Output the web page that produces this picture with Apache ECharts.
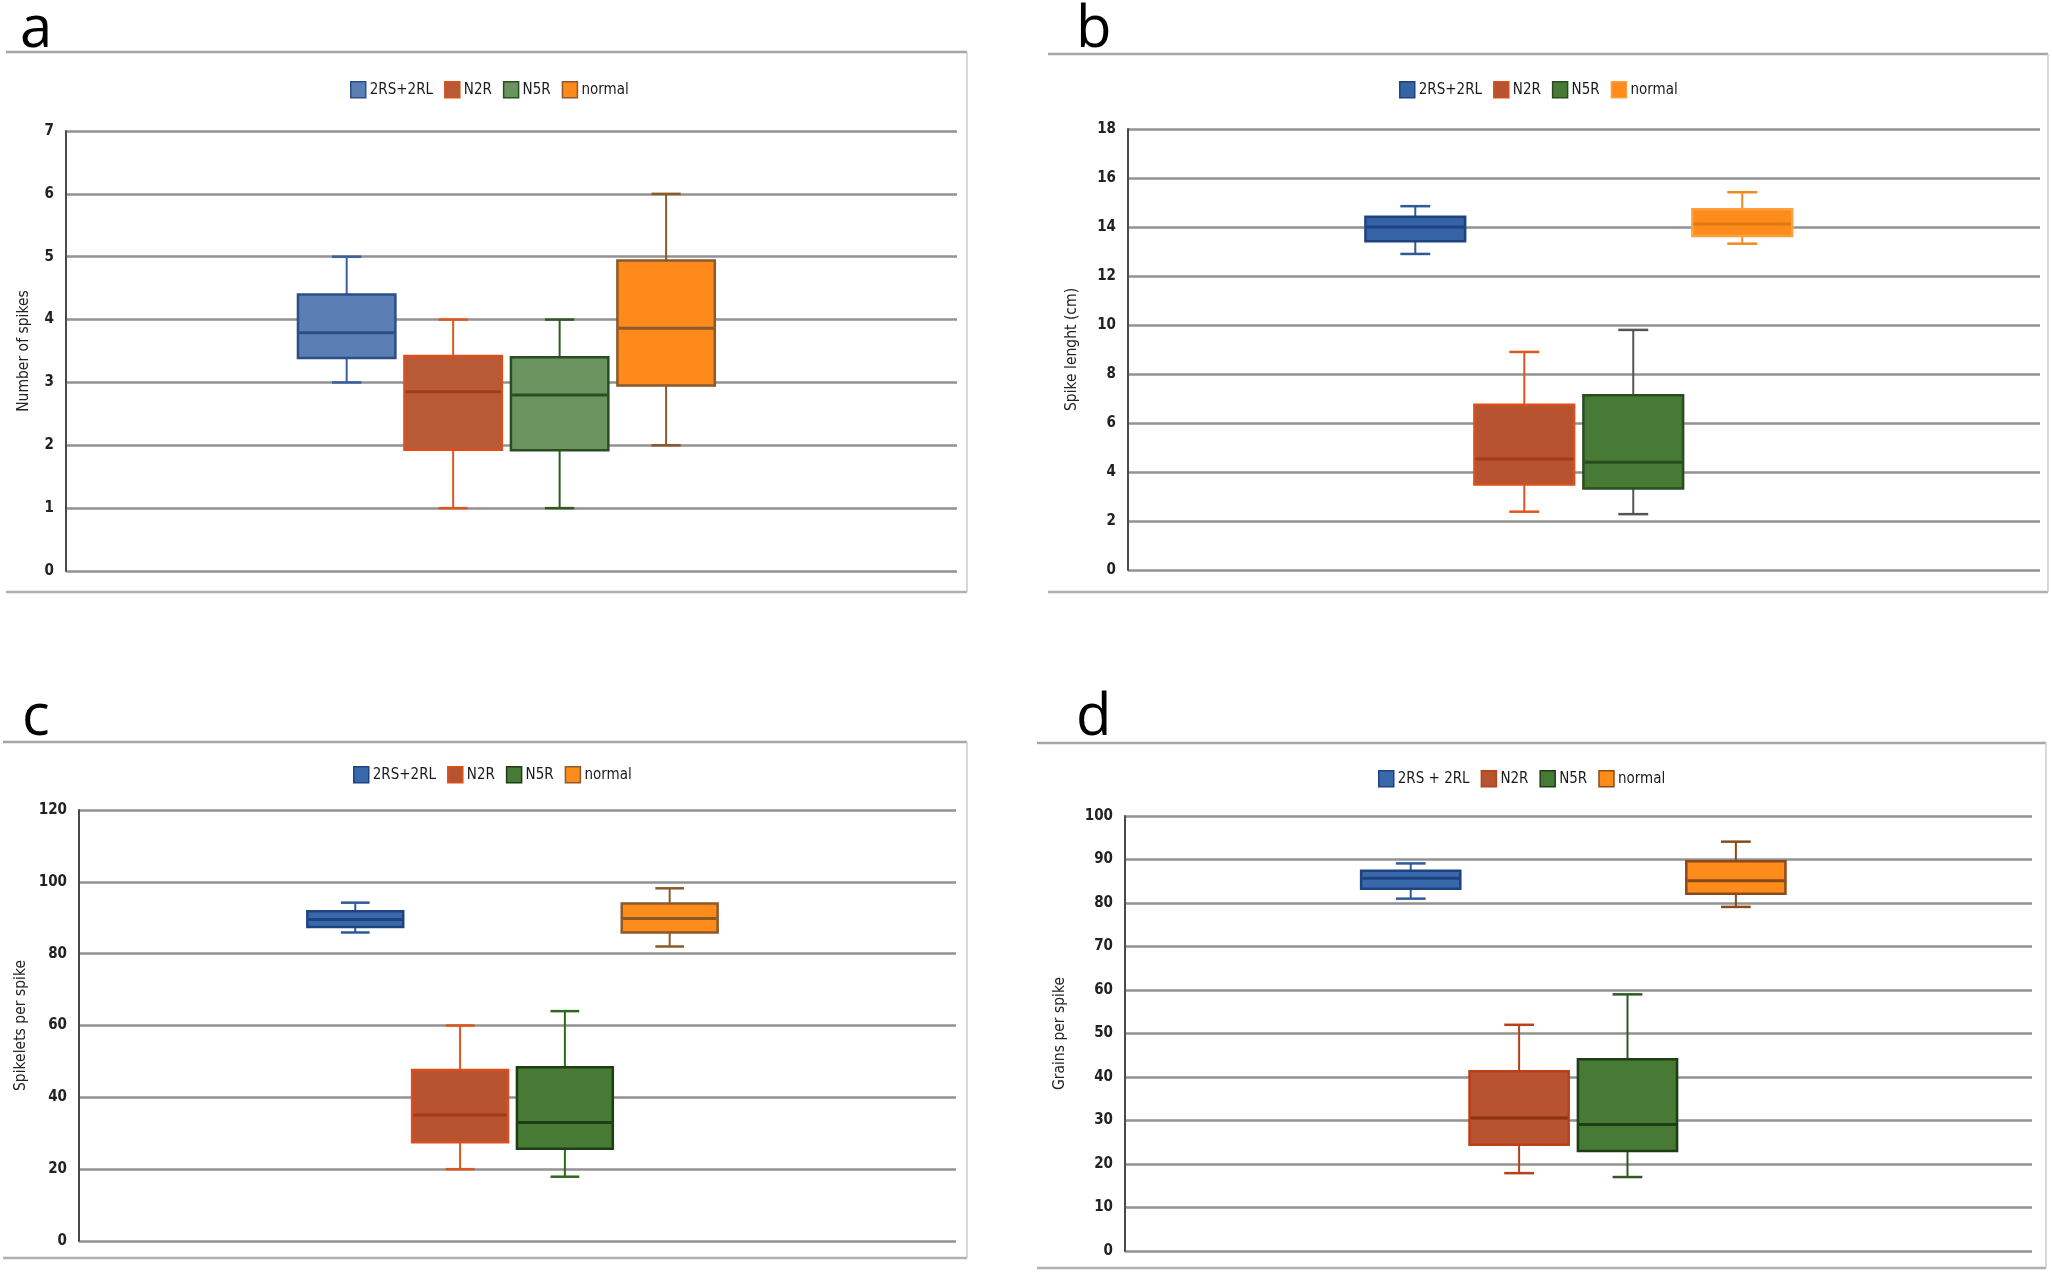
<!DOCTYPE html>
<html><head><meta charset="utf-8">
<script src="https://cdn.jsdelivr.net/npm/echarts@6/dist/echarts.min.js"></script>
<style>html,body{margin:0;padding:0;background:#fff}#c{width:2052px;height:1272px}</style>
</head><body><div id="c"></div>
<script>
// ---------- DATA ----------
const groupNames = ['2RS+2RL', 'N2R', 'N5R', 'normal'];
const groupNamesD = ['2RS + 2RL', 'N2R', 'N5R', 'normal'];
const groupIndex = [0, 1, 2, 3];
// each row: [min, Q1, median, Q3, max]
const spikesNumber = [
  [3.0, 3.39, 3.79, 4.40, 5.0],
  [1.0, 1.93, 2.85, 3.42, 4.0],
  [1.0, 1.92, 2.80, 3.40, 4.0],
  [2.0, 2.95, 3.86, 4.94, 6.0]
];
const spikeLength = [
  [12.9, 13.42, 14.0, 14.42, 14.85],
  [2.38, 3.49, 4.53, 6.75, 8.9],
  [2.28, 3.33, 4.40, 7.13, 9.8],
  [13.32, 13.63, 14.12, 14.72, 15.42]
];
const spikeletsPerSpike = [
  [85.9, 87.4, 89.5, 91.8, 94.2],
  [20.0, 27.5, 35.1, 47.6, 60.0],
  [17.9, 25.7, 33.0, 48.4, 64.0],
  [82.0, 85.9, 89.8, 94.0, 98.2]
];
const grainsPerSpike = [
  [81.0, 83.3, 85.7, 87.4, 89.1],
  [17.9, 24.4, 30.6, 41.3, 52.0],
  [17.0, 23.0, 29.1, 44.1, 59.0],
  [79.1, 82.1, 85.1, 89.6, 94.1]
];
const ticksA = [0, 1, 2, 3, 4, 5, 6, 7];
const ticksB = [0, 2, 4, 6, 8, 10, 12, 14, 16, 18];
const ticksC = [0, 20, 40, 60, 80, 100, 120];
const ticksD = [0, 10, 20, 30, 40, 50, 60, 70, 80, 90, 100];
const titleA = 'Number of spikes';
const titleB = 'Spike lenght (cm)';
const titleC = 'Spikelets per spike';
const titleD = 'Grains per spike';
const panelLetters = ['a', 'b', 'c', 'd'];

// ---------- STYLES / LAYOUT ----------
const NARROW = '"Liberation Sans Narrow","DejaVu Sans Condensed","Liberation Sans",sans-serif';
const BOX_RATIO = 0.915, CAP_RATIO = 0.3;
const X_MIN = -2.636, X_MAX = 5.732;

const stylesA = [
  {fill: '#5b7fb5', stroke: '#2e4e8a', median: '#2e4e8a', whisker: '#3a5f9c'},
  {fill: '#b85a36', stroke: '#d9501c', median: '#a23c18', whisker: '#e0561e'},
  {fill: '#6a9460', stroke: '#2b4d22', median: '#2b4d22', whisker: '#2e5a22'},
  {fill: '#ff8a1c', stroke: '#8b5a2b', median: '#8b5a2b', whisker: '#8b5a2b'}
];
const stylesB = [
  {fill: '#3563a5', stroke: '#1f4380', median: '#1f4380', whisker: '#2e5a9a'},
  {fill: '#b8532f', stroke: '#d9501c', median: '#a23c18', whisker: '#e0561e'},
  {fill: '#477a35', stroke: '#2a4d1e', median: '#2a4d1e', whisker: '#555555'},
  {fill: '#ff8c1a', stroke: '#ffa040', median: '#e07a10', whisker: '#f08a20'}
];
const stylesC = [
  {fill: '#3a69ab', stroke: '#1f4380', median: '#1f4380', whisker: '#2e5a9a'},
  {fill: '#b8532f', stroke: '#d9501c', median: '#a23c18', whisker: '#e0561e'},
  {fill: '#477a35', stroke: '#1e3d14', median: '#1e3d14', whisker: '#2e6a1e'},
  {fill: '#ff8c1a', stroke: '#8b5a2b', median: '#8b5a2b', whisker: '#8b5a2b'}
];
const stylesD = [
  {fill: '#3a69ab', stroke: '#1f4380', median: '#1f4380', whisker: '#2e5a9a'},
  {fill: '#b8532f', stroke: '#b8401a', median: '#8e3214', whisker: '#b8401a'},
  {fill: '#477a35', stroke: '#1e3d14', median: '#1e3d14', whisker: '#2e5a22'},
  {fill: '#ff8c1a', stroke: '#8b4a1b', median: '#8b4a1b', whisker: '#8b4a1b'}
];

const panels = [
  {names: groupNames, data: spikesNumber, ticks: ticksA, title: titleA, styles: stylesA,
   grid: {left: 66, top: 131, width: 891, height: 440}, nameGap: 34,
   legend: {left: 345, top: 76}, frame: [6, 52, 967, 592], letterPos: [20, 1]},
  {names: groupNames, data: spikeLength, ticks: ticksB, title: titleB, styles: stylesB,
   grid: {left: 1128, top: 129, width: 912, height: 441}, nameGap: 48,
   legend: {left: 1394, top: 76}, frame: [1048, 54, 2048, 592], letterPos: [1076, 1]},
  {names: groupNames, data: spikeletsPerSpike, ticks: ticksC, title: titleC, styles: stylesC,
   grid: {left: 79, top: 810, width: 877, height: 431}, nameGap: 50,
   legend: {left: 348, top: 761}, frame: [3, 742, 967, 1258], letterPos: [22, 689]},
  {names: groupNamesD, data: grainsPerSpike, ticks: ticksD, title: titleD, styles: stylesD,
   grid: {left: 1125, top: 816, width: 907, height: 435}, nameGap: 57,
   legend: {left: 1373, top: 765}, frame: [1037, 743, 2046, 1268], letterPos: [1076, 689]}
];

function renderBox(api, st) {
  const x = api.value(0);
  const pts = [1, 2, 3, 4, 5].map(d => api.coord([x, api.value(d)]));
  const [pMin, pQ1, pMed, pQ3, pMax] = pts;
  const cx = pMed[0];
  const unit = api.size([1, 0])[0];
  const bw = unit * BOX_RATIO, cw = bw * CAP_RATIO;
  const line = (x1, y1, x2, y2, c, w) => ({type: 'line', shape: {x1, y1, x2, y2}, style: {stroke: c, lineWidth: w}});
  return {type: 'group', children: [
    line(cx, pMax[1], cx, pQ3[1], st.whisker, 2),
    line(cx - cw / 2, pMax[1], cx + cw / 2, pMax[1], st.whisker, 2.5),
    line(cx, pQ1[1], cx, pMin[1], st.whisker, 2),
    line(cx - cw / 2, pMin[1], cx + cw / 2, pMin[1], st.whisker, 2.5),
    {type: 'rect', shape: {x: cx - bw / 2, y: pQ3[1], width: bw, height: pQ1[1] - pQ3[1]},
     style: {fill: st.fill, stroke: st.stroke, lineWidth: 2.5}},
    line(cx - bw / 2 + 1, pMed[1], cx + bw / 2 - 1, pMed[1], st.median, 3)
  ]};
}

const grid = [], xAxis = [], yAxis = [], series = [], legend = [], graphic = [];
panels.forEach((p, k) => {
  grid.push(Object.assign({containLabel: false}, p.grid));
  xAxis.push({type: 'value', gridIndex: k, min: X_MIN, max: X_MAX, show: false});
  yAxis.push({
    type: 'value', gridIndex: k,
    min: p.ticks[0], max: p.ticks[p.ticks.length - 1], interval: p.ticks[1] - p.ticks[0],
    axisLine: {show: true, onZero: false, lineStyle: {color: '#4a4a4a', width: 2}},
    axisTick: {show: false},
    splitLine: {show: true, lineStyle: {color: '#929292', width: 2.5}},
    axisLabel: {fontFamily: NARROW, fontSize: 15, fontWeight: 'bold', color: '#222', margin: 12},
    name: p.title, nameLocation: 'middle', nameRotate: 90, nameGap: p.nameGap,
    nameTextStyle: {fontFamily: NARROW, fontSize: 15.5, color: '#222'}
  });
  groupIndex.forEach(i => {
    const st = p.styles[i];
    series.push({
      type: 'custom', name: p.names[i], xAxisIndex: k, yAxisIndex: k,
      itemStyle: {color: st.fill},
      data: [[groupIndex[i]].concat(p.data[i])],
      encode: {x: 0, y: [1, 2, 3, 4, 5]},
      renderItem: (params, api) => renderBox(api, st),
      silent: true
    });
  });
  legend.push({
    left: p.legend.left, top: p.legend.top, orient: 'horizontal',
    icon: 'rect', itemWidth: 15, itemHeight: 16, itemGap: 11, selectedMode: false,
    textStyle: {fontFamily: NARROW, fontSize: 15, color: '#1a1a1a', padding: [0, 0, 0, -1]},
    data: p.names.map((n, i) => ({name: n, itemStyle: {color: p.styles[i].fill, borderColor: p.styles[i].stroke, borderWidth: 1.5}}))
  });
  const [l, t, r, b] = p.frame;
  graphic.push({type: 'polyline', shape: {points: [[l, t], [r, t]]}, style: {stroke: '#a6a6a6', lineWidth: 2.5}, silent: true});
  graphic.push({type: 'polyline', shape: {points: [[l, b], [r, b]]}, style: {stroke: '#b0b0b0', lineWidth: 2.5}, silent: true});
  graphic.push({type: 'polyline', shape: {points: [[r, t], [r, b]]}, style: {stroke: '#cccccc', lineWidth: 1.5}, silent: true});
  graphic.push({type: 'text', left: p.letterPos[0], top: p.letterPos[1],
    style: {text: panelLetters[k], font: '58px "Open Sans", "DejaVu Sans", sans-serif', fill: '#000'}, silent: true});
});

const chart = echarts.init(document.getElementById('c'), null, {renderer: 'canvas'});
chart.setOption({backgroundColor: '#fff', animation: false, grid, xAxis, yAxis, series, legend, graphic});
</script></body></html>
